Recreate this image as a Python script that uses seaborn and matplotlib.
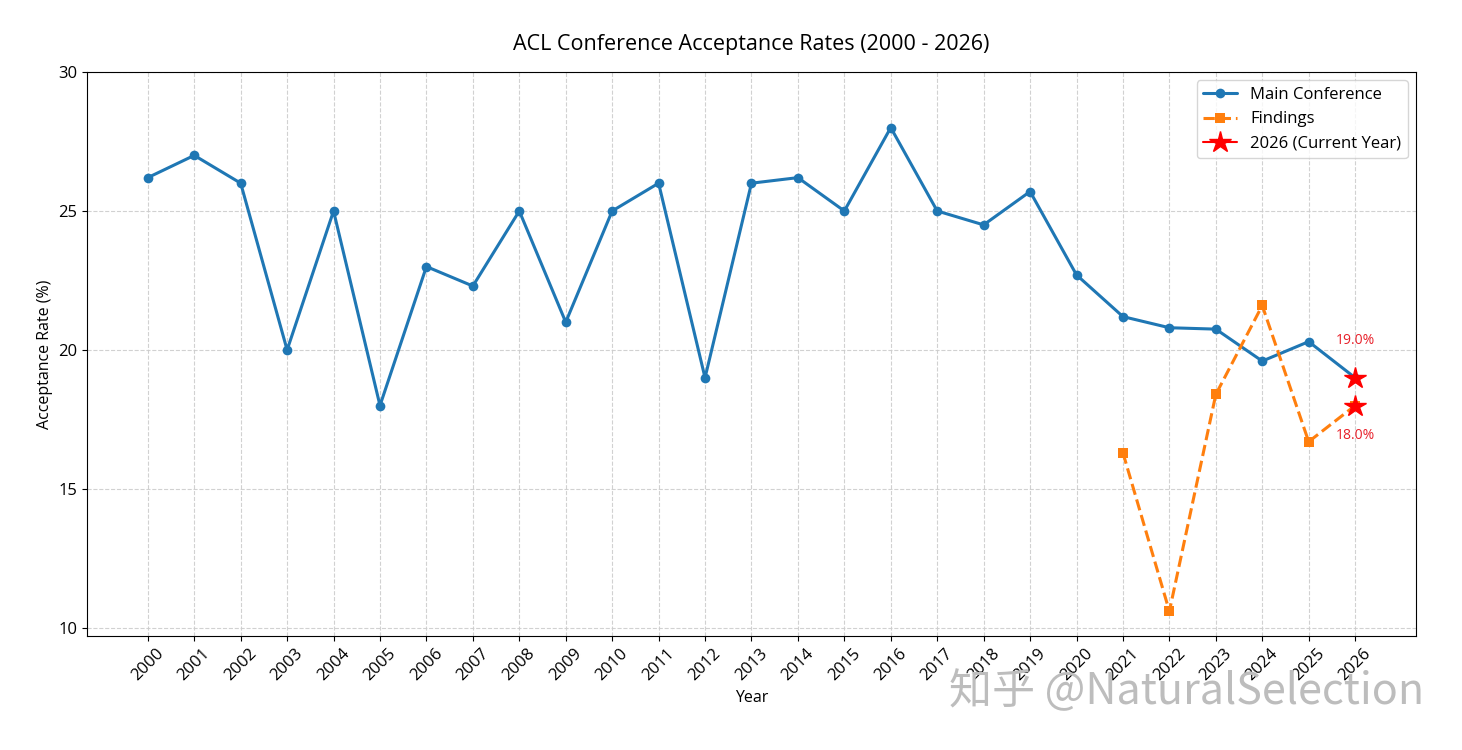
import matplotlib
matplotlib.use("Agg")
import matplotlib.pyplot as plt
import seaborn as sns
import pandas as pd

years = list(range(2000, 2027))
main_rates = [26.2, 27.0, 26.0, 20.0, 25.0, 18.0, 23.0, 22.3, 25.0, 21.0,
              25.0, 26.0, 19.0, 26.0, 26.2, 25.0, 28.0, 25.0, 24.5, 25.7,
              22.7, 21.2, 20.8, 20.75, 19.6, 20.3, 19.0]
findings_years = [2021, 2022, 2023, 2024, 2025, 2026]
findings_rates = [16.3, 10.6, 18.4, 21.6, 16.7, 18.0]
current_year = 2026
current_main = 19.0
current_findings = 18.0

sns.set_style("ticks")
plt.rcParams['font.family'] = ['Open Sans', 'DejaVu Sans']
plt.rcParams.update({"text.color": "black", "axes.labelcolor": "black",
                     "xtick.color": "black", "ytick.color": "black"})

fig = plt.figure(figsize=(14.62, 7.5), dpi=100)
ax = fig.add_axes([0.0595, 0.152, 0.909, 0.752])

df_main = pd.DataFrame({"Year": years, "Rate": main_rates})
df_find = pd.DataFrame({"Year": findings_years, "Rate": findings_rates})

sns.lineplot(data=df_main, x="Year", y="Rate", ax=ax, color="#1f77b4",
             marker="o", markersize=7, markeredgewidth=0, linewidth=2.2,
             label="Main Conference")
sns.lineplot(data=df_find, x="Year", y="Rate", ax=ax, color="#ff7f0e",
             marker="s", markersize=7, markeredgewidth=0, linewidth=2.2,
             linestyle="--", label="Findings")
ax.plot([current_year], [current_main], marker="*", color="red",
        markersize=16, label="2026 (Current Year)", zorder=5)
ax.plot([current_year], [current_findings], marker="*", color="red",
        markersize=16, zorder=5)

ax.annotate(f"{current_main:.1f}%", (current_year, current_main),
            xytext=(0, 24), textcoords="offset points", ha="center",
            color="#e8202a", fontsize=10)
ax.annotate(f"{current_findings:.1f}%", (current_year, current_findings),
            xytext=(0, -24), textcoords="offset points", ha="center",
            color="#e8202a", fontsize=10)

ax.set_xlim(1998.69, 2027.31)
ax.set_ylim(9.71, 30)
ax.set_xticks(years)
ax.set_xticklabels([str(y) for y in years], rotation=45, fontsize=12)
ax.set_yticks([10, 15, 20, 25, 30])
ax.tick_params(axis="y", labelsize=12)
ax.grid(True, linestyle="--", color="#cccccc", linewidth=0.8, alpha=0.9)
for s in ax.spines.values():
    s.set_visible(True)
    s.set_color("black")
ax.set_xlabel("Year", fontsize=11.5)
ax.set_ylabel("Acceptance Rate (%)", fontsize=11.5)
ax.set_title("ACL Conference Acceptance Rates (2000 - 2026)", fontsize=15.5, pad=16)
ax.legend(loc="upper right", fontsize=12, frameon=True)

fig.text(0.649, 0.077, "知乎 @NaturalSelection", fontsize=31, color="#bdbdbd",
         family=["Noto Sans CJK SC", "DejaVu Sans"], va="center", ha="left")

fig.savefig("out.png", dpi=100)
